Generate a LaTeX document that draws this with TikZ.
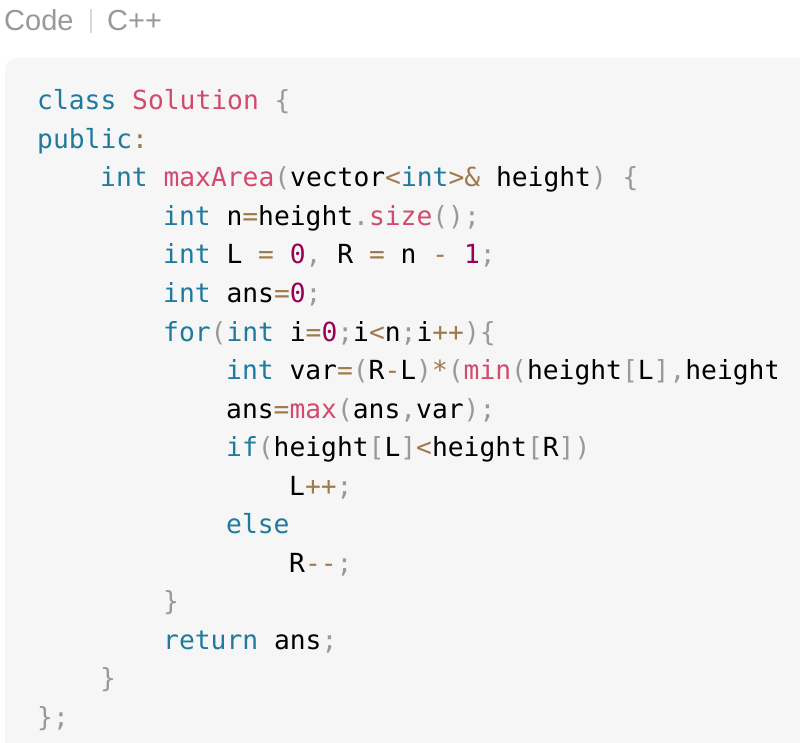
\documentclass[tikz,border=0pt]{standalone}
\usepackage{fontspec}
\usepackage{xcolor}
\newfontfamily\codefont[Ligatures=NoCommon]{DejaVu Sans Mono}
\newfontfamily\headfont{Liberation Sans}
\definecolor{kwblue}{HTML}{1F7A9E}
\definecolor{fnpink}{HTML}{D14B6F}
\definecolor{opbrown}{HTML}{A07A4C}
\definecolor{numpurple}{HTML}{990055}
\definecolor{punctgray}{HTML}{999999}
\definecolor{boxgray}{HTML}{F6F6F7}
\newcommand{\kw}[1]{\textcolor{kwblue}{#1}}
\newcommand{\fn}[1]{\textcolor{fnpink}{#1}}
\newcommand{\op}[1]{\textcolor{opbrown}{#1}}
\newcommand{\nm}[1]{\textcolor{numpurple}{#1}}
\newcommand{\pu}[1]{\textcolor{punctgray}{#1}}
\begin{document}
\begin{tikzpicture}[x=1pt,y=-1pt,
    codeline/.style={anchor=base west, inner sep=0pt, font=\codefont\fontsize{26.3}{30}\selectfont, text=black},
    headline/.style={anchor=base west, inner sep=0pt, font=\headfont\fontsize{29}{32}\selectfont, text=punctgray}
]
    \useasboundingbox (0,0) rectangle (800,743);
    \clip (0,0) rectangle (800,743);
    % header and background
    \node[headline] (lang) at (4,31) {Code};
    \draw[black!15, line width=1.2pt] (91,9) -- (91,33);
    \node[headline] (cpp) at (107,31) {C++};
    \fill[boxgray, rounded corners=12pt] (5,58) rectangle (830,780);

    % code lines
    \node[codeline] (l1) at (37,110) {\kw{class} \fn{Solution} \pu{\{}};
    \node[codeline] (l2) at (37,148.5) {\kw{public}\op{:}};
    \node[codeline] (l3) at (100,187) {\kw{int} \fn{maxArea}\pu{(}vector\op{<}\kw{int}\op{>\&} height\pu{)} \pu{\{}};
    \node[codeline] (l4) at (163,225.5) {\kw{int} n\op{=}height\pu{.}\fn{size}\pu{();}};
    \node[codeline] (l5) at (163,264) {\kw{int} L \op{=} \nm{0}\pu{,} R \op{=} n \op{-} \nm{1}\pu{;}};
    \node[codeline] (l6) at (163,302.5) {\kw{int} ans\op{=}\nm{0}\pu{;}};
    \node[codeline] (l7) at (163,341) {\kw{for}\pu{(}\kw{int} i\op{=}\nm{0}\pu{;}i\op{<}n\pu{;}i\op{+{}+}\pu{)\{}};
    \begin{scope}
        \clip (0,340) rectangle (776,400);
        \node[codeline] (l8) at (226,379.5) {\kw{int} var\op{=}\pu{(}R\op{-}L\pu{)}\op{*}\pu{(}\fn{min}\pu{(}height\pu{[}L\pu{],}height\pu{[}R\pu{]));}};
    \end{scope}
    \node[codeline] (l9) at (226,418) {ans\op{=}\fn{max}\pu{(}ans\pu{,}var\pu{);}};
    \node[codeline] (l10) at (226,456.5) {\kw{if}\pu{(}height\pu{[}L\pu{]}\op{<}height\pu{[}R\pu{])}};
    \node[codeline] (l11) at (289,495) {L\op{+{}+}\pu{;}};
    \node[codeline] (l12) at (226,533.5) {\kw{else}};
    \node[codeline] (l13) at (289,572) {R\op{-{}-}\pu{;}};
    \node[codeline] (l14) at (163,610.5) {\pu{\}}};
    \node[codeline] (l15) at (163,649) {\kw{return} ans\pu{;}};
    \node[codeline] (l16) at (100,687.5) {\pu{\}}};
    \node[codeline] (l17) at (37,726) {\pu{\};}};
\end{tikzpicture}
\end{document}
